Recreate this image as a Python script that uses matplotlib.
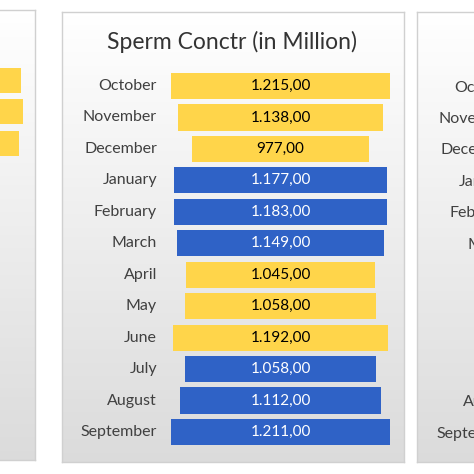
import matplotlib
matplotlib.use("Agg")
import matplotlib.pyplot as plt
import numpy as np

months = ["October","November","December","January","February","March",
          "April","May","June","July","August","September"]
values = [1215, 1138, 977, 1177, 1183, 1149, 1045, 1058, 1192, 1058, 1112, 1211]
season = ["Y","Y","Y","B","B","B","Y","Y","Y","B","B","B"]
title = "Sperm Conctr (in Million)"
left_vals = [1215, 1230, 1190]   # partially visible neighbour panel (first rows)
right_labels = ["October","November","December","January","February","March",
                "","","","","August","September"]

YEL = "#FFD54A"; BLU = "#2F62C6"
FONT = ["Lato", "DejaVu Sans"]
W = H = 474
fig = plt.figure(figsize=(4.74, 4.74), dpi=100)
fig.patch.set_facecolor("white")

def panel(x0, x1, y0=12, y1=462):
    ax = fig.add_axes([x0/W, 1-y1/H, (x1-x0)/W, (y1-y0)/H], zorder=0)
    grad = np.linspace(1.0, 0.86, 100).reshape(-1, 1)
    ax.imshow(np.dstack([grad, grad, grad]), aspect="auto", extent=(0, 1, 0, 1))
    ax.set_xticks([]); ax.set_yticks([])
    for s in ax.spines.values():
        s.set_color("#d0d0d0"); s.set_linewidth(1)
    return ax

panel(-20, 35, 10, 460)
panel(62, 404)
panel(417, 500)

ax = fig.add_axes([0, 0, 1, 1], zorder=2)
ax.patch.set_alpha(0)
s = 219/1215
cx = 280.5
ax.set_xlim(-cx/s, (W-cx)/s)
ax.set_ylim((H-86)/31.45, (0-86)/31.45)
ax.axis("off")

y = np.arange(len(months))
cols = [YEL if c == "Y" else BLU for c in season]
ax.barh(y, values, left=-np.array(values)/2, height=0.83, color=cols)
for i, (v, c) in enumerate(zip(values, season)):
    txt = f"{v:,}".replace(",", ".") + ",00"
    ax.text(0, i, txt, ha="center", va="center", fontsize=11,
            color="white" if c == "B" else "black", family=FONT)
    ax.text((157-cx)/s, i, months[i], ha="right", va="center", fontsize=11.5,
            color="#404040", family=FONT)
ax.text((232-cx)/s, (42-86)/31.45, title, ha="center", va="center", fontsize=16.5,
        color="#333333", family=FONT)

# left neighbour bars (centered at px ~ -90)
lc = -88
ax.barh(y[:3] - 0.18, left_vals, left=(lc-cx)/s-np.array(left_vals)/2,
        height=0.8, color=YEL)
# right neighbour labels
for i, lab in enumerate(right_labels):
    if lab:
        ax.text((513-cx)/s, i + 0.05, lab, ha="right", va="center", fontsize=11.5,
                color="#404040", family=FONT)

fig.savefig("out.png", dpi=100)
